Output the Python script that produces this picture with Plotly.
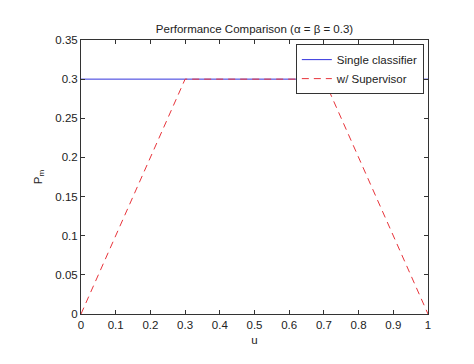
import plotly.graph_objects as go

u_single = [0, 1]
pm_single = [0.3, 0.3]
u_sup = [0, 0.3, 0.7, 1]
pm_sup = [0, 0.3, 0.3, 0]
x_ticks = [0, 0.1, 0.2, 0.3, 0.4, 0.5, 0.6, 0.7, 0.8, 0.9, 1]
x_tick_labels = ["0", "0.1", "0.2", "0.3", "0.4", "0.5", "0.6", "0.7", "0.8", "0.9", "1"]
y_ticks = [0, 0.05, 0.1, 0.15, 0.2, 0.25, 0.3, 0.35]
y_tick_labels = ["0", "0.05", "0.1", "0.15", "0.2", "0.25", "0.3", "0.35"]

fig = go.Figure()
fig.add_trace(go.Scatter(x=u_single, y=pm_single, mode="lines", name="Single classifier",
                         line=dict(color="#3333dd", width=1)))
fig.add_trace(go.Scatter(x=u_sup, y=pm_sup, mode="lines", name="w/ Supervisor",
                         line=dict(color="#e8333a", width=1, dash="7px,5px")))

axis_common = dict(showgrid=False, zeroline=False, showline=True, linecolor="#333333", linewidth=1,
                   mirror="ticks", ticks="inside", ticklen=4, tickcolor="#333333",
                   automargin=False,
                   tickfont=dict(size=11.5, color="#222222"))
fig.update_layout(
    width=474, height=364,
    margin=dict(l=73, r=54, t=32, b=58),
    paper_bgcolor="white", plot_bgcolor="white",
    font=dict(family="Liberation Sans, Arial, sans-serif", size=11.5, color="#222222"),
    title=dict(text="Performance Comparison (α = β = 0.3)", x=246.5/474, xanchor="center",
               y=1 - 21/364, yanchor="middle", font=dict(size=11.5)),
    xaxis=dict(range=[0, 1], tickvals=x_ticks, ticktext=x_tick_labels,
               title=dict(text="u", standoff=6, font=dict(size=11.5)), **axis_common),
    yaxis=dict(range=[0, 0.35], tickvals=y_ticks, ticktext=y_tick_labels,
               title=dict(text="P<sub>m</sub>", standoff=10, font=dict(size=11.5)), **axis_common),
    showlegend=True,
    legend=dict(x=0.988, y=0.985, xanchor="right", yanchor="top", bgcolor="white",
                bordercolor="#333333", borderwidth=1, font=dict(size=11.5),
                tracegroupgap=0, itemwidth=30),
)
fig.write_html("out.html")
